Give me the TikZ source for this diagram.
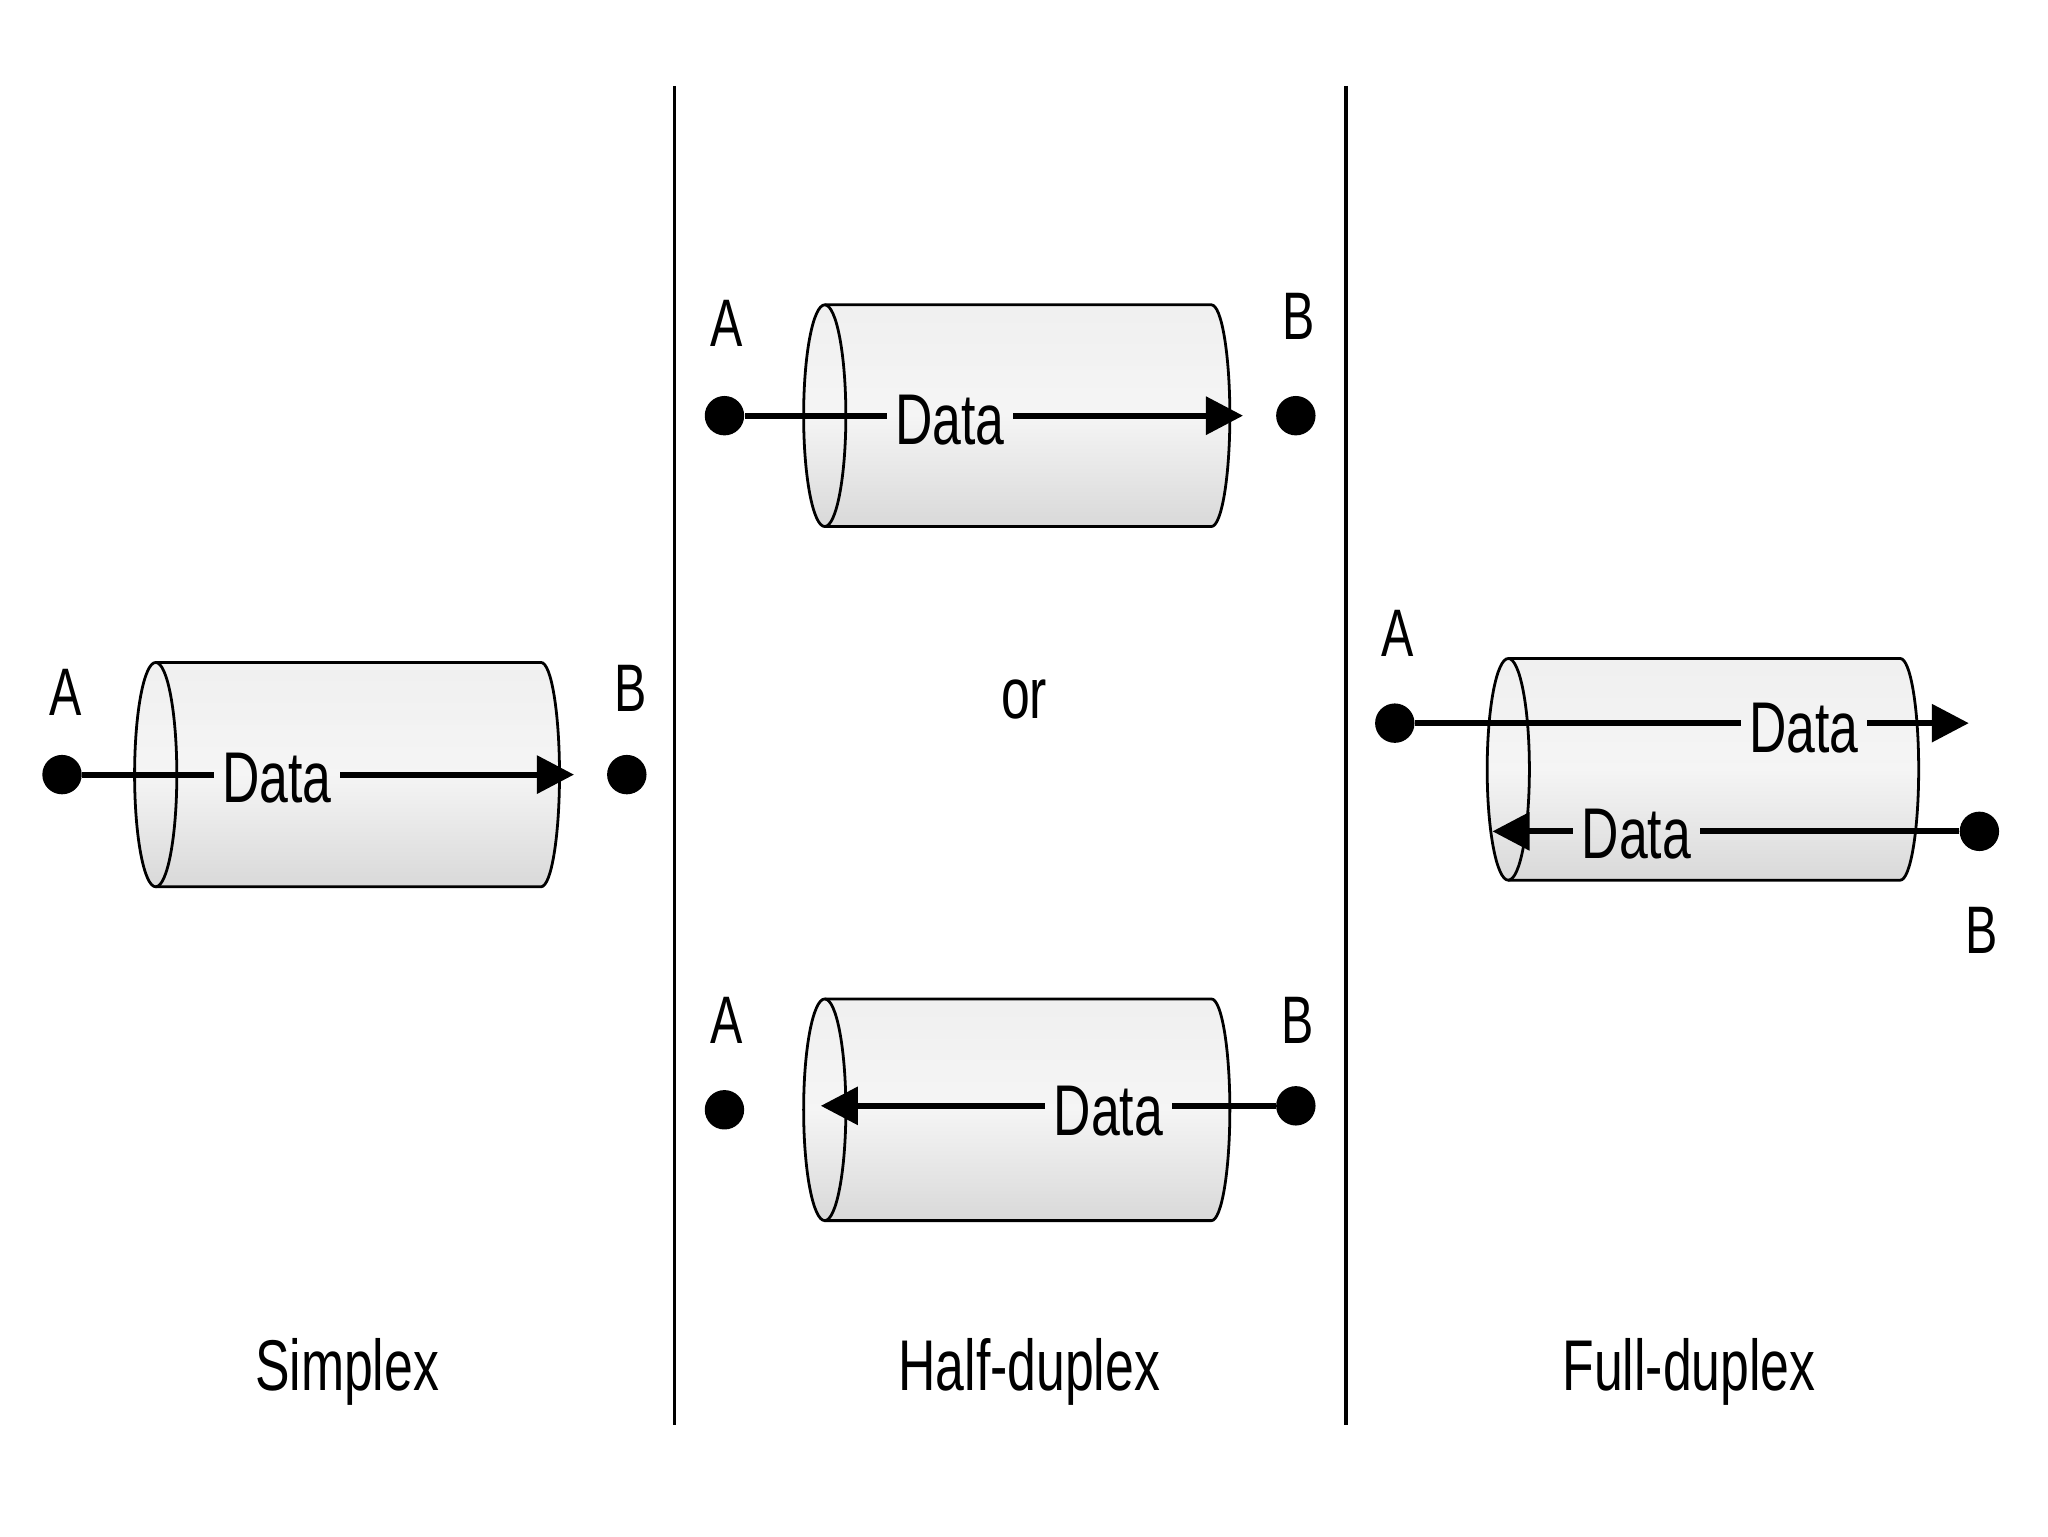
\documentclass[tikz,border=0pt]{standalone}
\usepackage{fontspec}
\setmainfont{Liberation Sans}
\usetikzlibrary{arrows.meta}
\newcommand\mycyl[4]{% x1 x2 yc ry
  \fill[top color=gray!12,bottom color=gray!30,middle color=gray!8] (#1,#3-#4) -- (#2,#3-#4) arc[start angle=-90,end angle=90,x radius=14,y radius=#4] -- (#1,#3+#4) arc[start angle=90,end angle=270,x radius=16,y radius=#4] -- cycle;
  \draw[line width=1.2pt] (#1,#3+#4) -- (#2,#3+#4) arc[start angle=90,end angle=-90,x radius=14,y radius=#4] -- (#1,#3-#4);
  \draw[line width=1.2pt] (#1,#3) ellipse[x radius=16,y radius=#4];}
\begin{document}
\begin{tikzpicture}[x=0.02cm,y=-0.02cm,
  lbl/.style={font=\fontsize{29}{34}\selectfont,xscale=0.72,inner sep=1pt},
  dat/.style={font=\fontsize{31}{36}\selectfont,xscale=0.72,inner sep=5pt},
  dot/.style={circle,fill=black,minimum width=13pt,minimum height=17pt,inner sep=0pt},
  ln/.style={line width=2.6pt},
  ar/.style={ln,-{Triangle[length=16pt,width=16pt]}},
  captxt/.style={font=\fontsize{31}{36}\selectfont,xscale=0.72}]
\useasboundingbox (0,0) rectangle (1552,1164);
\draw[line width=1.5pt] (511,65) -- (511,1080) (1020,65) -- (1020,1080);
% simplex
\mycyl{118}{410}{587}{85}
\node[dot] (sa) at (47,587) {}; \node[lbl] at (50,525) {A};
\node[dot] (sb) at (475,587) {}; \node[lbl] at (478,522) {B};
\node[dat] (sd) at (210,590) {Data}; \coordinate (se) at (435,587);
\draw[ln] (sa) -- (sa -| sd.west); \draw[ar] (se -| sd.east) -- (se);
\node[captxt] at (263,1040) {Simplex};
% half top
\mycyl{625}{918}{315}{84}
\node[dot] (ha) at (549,315) {}; \node[lbl] at (551,245) {A};
\node[dot] (hb) at (982,315) {}; \node[lbl] at (984,240) {B};
\node[dat] (hd) at (720,318) {Data}; \coordinate (he) at (942,315);
\draw[ln] (ha) -- (ha -| hd.west); \draw[ar] (he -| hd.east) -- (he);
\node[captxt] at (776,530) {or};
% half bottom
\mycyl{625}{918}{841}{84}
\node[dot] (ia) at (549,841) {}; \node[lbl] at (551,773) {A};
\node[dot] (ib) at (982,838) {}; \node[lbl] at (983,773) {B};
\node[dat] (id) at (840,842) {Data}; \coordinate (ie) at (622,838);
\draw[ln] (ib) -- (ib -| id.east); \draw[ar] (ie -| id.west) -- (ie);
\node[captxt] at (780,1040) {Half-duplex};
% full
\mycyl{1143}{1440}{583}{84}
\node[dot] (fa) at (1057,548) {}; \node[lbl] at (1059,480) {A};
\node[dot] (fb) at (1500,630) {}; \node[lbl] at (1502,705) {B};
\node[dat] (fd) at (1367,552) {Data}; \coordinate (fe) at (1492,548);
\node[dat] (gd) at (1240,632) {Data}; \coordinate (ge) at (1131,630);
\draw[ln] (fa) -- (fa -| fd.west); \draw[ar] (fe -| fd.east) -- (fe);
\draw[ln] (fb) -- (fb -| gd.east); \draw[ar] (ge -| gd.west) -- (ge);
\node[captxt] at (1280,1040) {Full-duplex};
\end{tikzpicture}
\end{document}
